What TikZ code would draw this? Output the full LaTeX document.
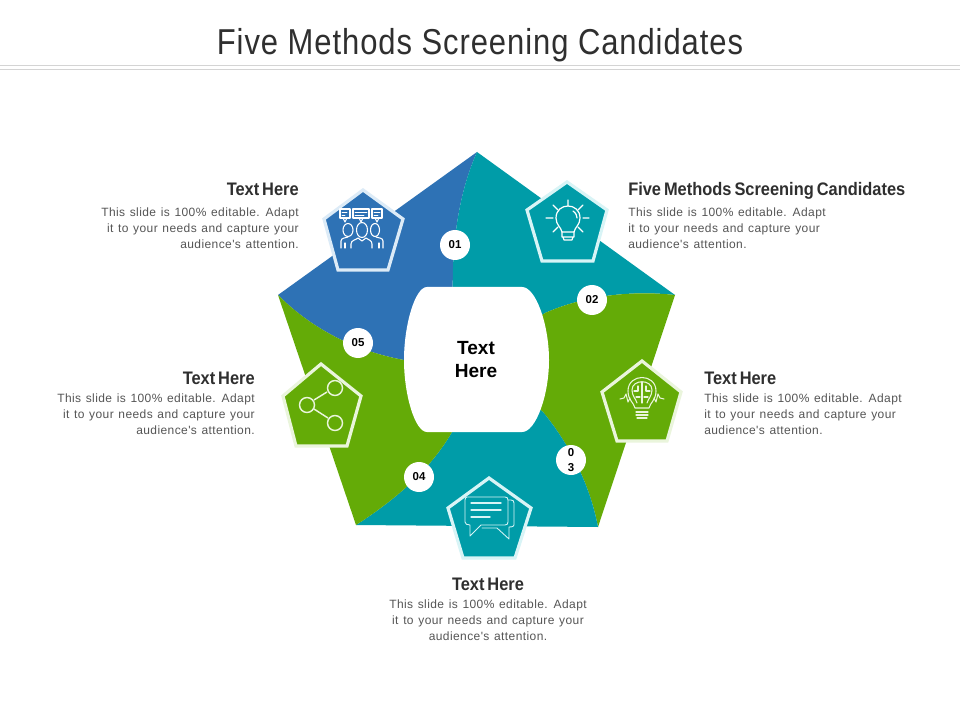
\documentclass[tikz,border=0pt]{standalone}
\usepackage{fontspec}
\setmainfont{Liberation Sans}
\newfontfamily\narrowreg[FakeStretch=0.86,LetterSpace=2.6]{Liberation Sans}
\newfontfamily\narrowbold[FakeStretch=0.905,WordSpace=0.65]{Liberation Sans Bold}
\newfontfamily\bodyfont[LetterSpace=3.4,WordSpace=1.25]{Liberation Sans}
\definecolor{cblue}{HTML}{2E72B5}
\definecolor{cteal}{HTML}{009CA8}
\definecolor{cgreen}{HTML}{64AB07}
\definecolor{lblue}{HTML}{DCEBF7}
\definecolor{lteal}{HTML}{D8F4F6}
\definecolor{lgreen}{HTML}{EAF5DC}
\definecolor{ink}{HTML}{2F2F2F}
\definecolor{bodyink}{HTML}{555555}
\newcommand{\bodyL}{This slide is 100\% editable. Adapt\\it to your needs and capture your\\audience's attention.}
\tikzset{
  region/.style={draw=none},
  pent/.style={line width=2.4pt,line join=miter},
  icon/.style={line width=0.8pt,line cap=round,line join=round},
  heading/.style={inner sep=0pt,text=ink,font=\narrowbold\fontsize{13.6}{16}\selectfont},
  bodytext/.style={inner sep=0pt,text=bodyink,font=\bodyfont\fontsize{9}{12}\selectfont},
  badge/.style={circle,fill=white,minimum size=22.5pt,inner sep=0pt,align=center,text=black,font=\bfseries\fontsize{8.6}{11.5}\selectfont},
  rule/.style={draw=black!17,line width=0.75pt}
}
\begin{document}
\begin{tikzpicture}[x=0.75pt,y=-0.75pt]
\useasboundingbox (0,0) rectangle (960,720);
\fill[white] (0,0) rectangle (960,720);
% title
\node[inner sep=0pt,anchor=base,text=ink,font=\narrowreg\fontsize{27}{30}\selectfont] (title) at (480,55) {Five Methods Screening Candidates};
\coordinate (r1a) at (0,66); \coordinate (r1b) at (960,66);
\coordinate (r2a) at (0,70); \coordinate (r2b) at (960,70);
\draw[rule] (r1a) -- (r1b);
\draw[rule] (r2a) -- (r2b);
% outer pentagon regions
\fill[cblue,region] (477,152) .. controls (460,190) and (451,240) .. (453,300) -- (476,360) -- (404,360) .. controls (360,352) and (315,332) .. (278,295) -- cycle;
\fill[cteal,region] (477,152) -- (675,295) .. controls (640,291) and (590,293) .. (545,313) -- (476,360) -- (453,300) .. controls (451,240) and (460,190) .. (477,152) -- cycle;
\fill[cgreen,region] (675,295) -- (598,527) .. controls (590,485) and (570,445) .. (543,412) -- (476,360) -- (545,313) .. controls (590,293) and (640,291) .. (675,295) -- cycle;
\fill[cteal,region] (598,527) -- (356,525) .. controls (395,500) and (430,470) .. (452,432) -- (476,360) -- (543,412) .. controls (570,445) and (590,485) .. (598,527) -- cycle;
\fill[cgreen,region] (356,525) -- (278,295) .. controls (315,332) and (360,352) .. (404,360) -- (476,360) -- (452,432) .. controls (430,470) and (395,500) .. (356,525) -- cycle;
% centre
\fill[white] (427,287) -- (522,287) .. controls (536,287) and (549,325) .. (549,360) .. controls (549,395) and (536,432) .. (522,432) -- (427,432) .. controls (415,432) and (404,395) .. (404,360) .. controls (404,325) and (415,287) .. (427,287) -- cycle;
\node[inner sep=0pt,align=center,text=black,font=\bfseries\fontsize{14.3}{17.2}\selectfont] (centre) at (476,360) {Text\\Here};
% small pentagons
\filldraw[pent,fill=cblue,draw=lblue] (363,190) -- (403,219) -- (388,270) -- (338,270) -- (324,219) -- cycle;
\filldraw[pent,fill=cteal,draw=lteal] (567,182) -- (607,210) -- (593,261) -- (542,261) -- (527,210) -- cycle;
\filldraw[pent,fill=cgreen,draw=lgreen] (642,361) -- (681,392) -- (667,441) -- (617,441) -- (602,392) -- cycle;
\filldraw[pent,fill=cteal,draw=lteal] (489,478) -- (531,508) -- (515,558) -- (463,558) -- (448,508) -- cycle;
\filldraw[pent,fill=cgreen,draw=lgreen] (321,364) -- (361,396) -- (347,446) -- (296,446) -- (283,396) -- cycle;
% icon: people
\begin{scope}[icon,draw=white]
\draw (340,209) rectangle (350,218); \draw (343,218) -- (345,222) -- (347,218);
\draw (353,209) rectangle (369,218); \draw (359,218) -- (361,222) -- (363,218);
\draw (372,209) rectangle (382,218); \draw (375,218) -- (377,222) -- (379,218);
\draw[line width=0.45pt] (342,212.5) -- (347,212.5) (342,215) -- (345,215);
\draw[line width=0.45pt] (355,212.5) -- (367,212.5) (355,215) -- (364,215);
\draw[line width=0.45pt] (374,212.5) -- (380,212.5) (374,215) -- (378,215);
\draw (348,230) ellipse (5 and 6.5);
\draw (362,230) ellipse (5.5 and 7.5);
\draw (375,230) ellipse (4.5 and 6.5);
\draw (341,248) -- (341,241) .. controls (341,238) and (345,238) .. (348,237);
\draw (383,248) -- (383,241) .. controls (383,238) and (379,238) .. (376,237);
\draw (351,248) -- (351,244) .. controls (351,240) and (356,240) .. (358,238) -- (362,241) -- (366,238) .. controls (368,240) and (372,240) .. (372,244) -- (372,248);
\draw (345,243) -- (345,248) (379,243) -- (379,248);
\end{scope}
% icon: bulb
\begin{scope}[icon,draw=white,line width=0.9pt]
\draw (562,232) .. controls (561,227) and (556,225) .. (556,218) .. controls (556,202) and (580,202) .. (580,218) .. controls (580,225) and (575,227) .. (574,232) -- cycle;
\draw (562,232) -- (562,237) -- (574,237) -- (574,232) (563,237) -- (564,240) -- (572,240) -- (573,237);
\draw (568,200) -- (568,206) (553,205) -- (558,210) (583,205) -- (578,210) (546,218) -- (553,218) (583,218) -- (589,218) (553,232) -- (558,227) (583,232) -- (578,227);
\draw (573,211) .. controls (576,213) and (577,216) .. (577,218);
\end{scope}
% icon: brain bulb
\begin{scope}[icon,draw=lgreen,line width=0.8pt]
\draw (635,408) .. controls (634,403) and (628,400) .. (628,391) .. controls (628,373) and (656,373) .. (656,391) .. controls (656,400) and (650,403) .. (649,408) -- cycle;
\draw (636,412) -- (648,412) (636,415) -- (648,415) (637,418) -- (647,418);
\draw (632,390) .. controls (632,379) and (652,379) .. (652,390) .. controls (652,396) and (648,399) .. (647,403) (637,403) .. controls (636,399) and (632,396) .. (632,390);
\draw (642,382) -- (642,403);
\draw (634,391) -- (638,391) -- (638,386) (636,397) -- (640,397) (650,391) -- (646,391) -- (646,386) (648,397) -- (644,397);
\draw (620,399) -- (624,398) -- (626,394) -- (628,402) -- (630,398);
\draw (664,399) -- (660,398) -- (658,394) -- (656,402) -- (654,398);
\end{scope}
% icon: chat
\begin{scope}[icon,draw=lteal,line width=0.65pt]
\draw (467,497) -- (505,497) .. controls (507,497) and (508,498) .. (508,500) -- (508,522) .. controls (508,524) and (507,525) .. (505,525) -- (481,525) -- (470,536) -- (470,525) .. controls (467,525) and (465,524) .. (465,522) -- (465,500) .. controls (465,498) and (466,497) .. (467,497) -- cycle;
\draw (508,500) -- (511,500) .. controls (513,500) and (514,501) .. (514,503) -- (514,525) .. controls (514,526) and (513,527) .. (509,527) -- (509,539) -- (497,528) -- (482,528);
\draw[line width=1pt] (471,503) -- (501,503) (471,510) -- (501,510) (471,517) -- (490,517);
\end{scope}
% icon: share
\begin{scope}[draw=lgreen,line width=1.1pt]
\draw (335,388) circle (7.5);
\draw (307,405) circle (7.5);
\draw (335,423) circle (7.5);
\draw (314,400) -- (327,392);
\draw (314,409) -- (328,418);
\end{scope}
% badges
\node[badge] (b1) at (455,245) {01};
\node[badge] (b2) at (592,300) {02};
\node[badge] (b3) at (571,460) {0\\3};
\node[badge] (b4) at (419,477) {04};
\node[badge] (b5) at (358,343) {05};
% labels
\node[heading,anchor=base east] (h1) at (299,196) {Text Here};
\node[bodytext,anchor=north east,align=right] (t1) at (299,208) {\bodyL};
\node[heading,anchor=base west] (h2) at (628,196) {Five Methods Screening Candidates};
\node[bodytext,anchor=north west,align=left] (t2) at (628,208) {\bodyL};
\node[heading,anchor=base west] (h3) at (704,384) {Text Here};
\node[bodytext,anchor=north west,align=left] (t3) at (704,394) {\bodyL};
\node[heading,anchor=base] (h4) at (488,590) {Text Here};
\node[bodytext,anchor=north,align=center] (t4) at (488,600) {\bodyL};
\node[heading,anchor=base east] (h5) at (255,384) {Text Here};
\node[bodytext,anchor=north east,align=right] (t5) at (255,394) {\bodyL};
\end{tikzpicture}
\end{document}
